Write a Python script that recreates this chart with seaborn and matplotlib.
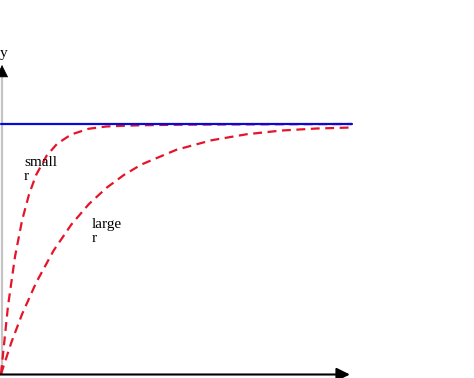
import matplotlib
matplotlib.use("Agg")
import matplotlib.pyplot as plt
import seaborn as sns
import pandas as pd

# ---- data ----
t_small = [0, 0.2, 0.4, 0.6, 0.8, 1.0, 1.3, 1.6, 2.0, 2.5, 3.0, 3.5, 4.0, 5.0, 6.0, 8.0, 10.0]
y_small = [0, 0.272, 0.470, 0.614, 0.719, 0.796, 0.873, 0.921, 0.958, 0.981, 0.990, 0.993,
           0.995, 0.997, 0.998, 0.999, 1.0]
t_large = [0, 0.3, 0.6, 1.0, 1.5, 2.0, 2.5, 3.0, 3.5, 4.0, 5.0, 6.0, 7.0, 8.0, 9.0, 10.0]
y_large = [0, 0.128, 0.239, 0.365, 0.494, 0.597, 0.679, 0.744, 0.796, 0.838, 0.897, 0.935,
           0.959, 0.974, 0.982, 0.986]
t_asym = [0, 10]
y_asym = [1, 1]
labels = ["small\nr", "large\nr"]
axis_label = "y"

sns.set_theme(style="white")
plt.rcParams["font.family"] = ["Liberation Serif", "DejaVu Serif"]

fig = plt.figure(figsize=(4.74, 3.78), dpi=100)
ax = fig.add_axes([0, 0, 1, 1])
ax.set_xlim(-0.028, -0.028 + 474 / 35.1)
ax.set_ylim(-4 / 250, 374 / 250)
ax.axis("off")

red = "#e6142b"
dash = (0, (4, 2.5))
small = pd.DataFrame({"t": t_small, "y": y_small})
large = pd.DataFrame({"t": t_large, "y": y_large})
asym = pd.DataFrame({"t": t_asym, "y": y_asym})

sns.lineplot(data=small, x="t", y="y", ax=ax, color=red, lw=1.6, linestyle=dash, zorder=2)
sns.lineplot(data=large, x="t", y="y", ax=ax, color=red, lw=1.6, linestyle=dash, zorder=2)
sns.lineplot(data=asym, x="t", y="y", ax=ax, color="#0a0ad8", lw=1.6, zorder=3)

# y axis (gray shaft, black head)
ax.plot([0.03, 0.03], [0, 1.19], color="#c4c4c4", lw=1.6, zorder=1, solid_capstyle="butt")
ax.annotate("", xy=(0.03, 1.236), xytext=(0.03, 1.19),
            arrowprops=dict(arrowstyle="-|>", color="black", lw=0.5,
                            mutation_scale=20, shrinkA=0, shrinkB=0))
# x axis
ax.annotate("", xy=(9.94, -0.002), xytext=(-0.03, -0.002),
            arrowprops=dict(arrowstyle="-|>", color="black", lw=1.5,
                            mutation_scale=20, shrinkA=0, shrinkB=0))

ax.text(-0.028, 1.268, axis_label, fontsize=11, ha="left", va="baseline", color="black")
ax.text(0.655, 0.872, labels[0], fontsize=11, ha="left", va="top", color="black",
        linespacing=1.1)
ax.text(2.59, 0.624, labels[1], fontsize=11, ha="left", va="top", color="black",
        linespacing=1.1)

fig.savefig("out.png", dpi=100)
